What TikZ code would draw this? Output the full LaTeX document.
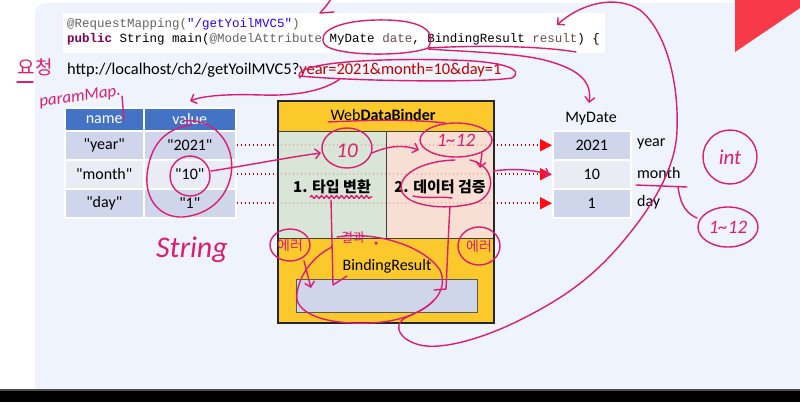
\documentclass[tikz,border=0pt]{standalone}
\usepackage{fontspec}
\setmainfont{Carlito}[Ligatures=TeXOff]
\setmonofont{Liberation Mono}
\newfontfamily\kr{Noto Sans CJK KR}
\usetikzlibrary{arrows.meta,decorations.pathmorphing}
\definecolor{panel}{HTML}{EFF3FC}
\definecolor{redtri}{HTML}{F83A48}
\definecolor{hdrblue}{HTML}{4472C4}
\definecolor{rowdark}{HTML}{CFD5EA}
\definecolor{rowlight}{HTML}{E9EBF5}
\definecolor{wdborange}{HTML}{FFC000}
\definecolor{convgreen}{HTML}{D5E4D0}
\definecolor{validpeach}{HTML}{F9DDCB}
\definecolor{dotred}{HTML}{C00000}
\definecolor{tipred}{HTML}{FF1010}
\definecolor{pen}{HTML}{DC1E73}
\definecolor{codegray}{HTML}{646464}
\definecolor{codeblue}{HTML}{2A00FF}
\definecolor{codekw}{HTML}{7F0055}
\definecolor{codevar}{HTML}{6A4E4E}
\definecolor{urlred}{HTML}{C00000}
\newcommand\fsz[1]{\fontsize{#1}{#1}\selectfont}
\begin{document}
\begin{tikzpicture}[x=1pt,y=-1pt,
  cell/.style={draw=white,line width=1.5pt,inner sep=0pt,anchor=north west,minimum height=29,font=\fsz{16}},
  hcell/.style={cell,fill=hdrblue,text=white,minimum height=23},
  part/.style={draw=black!75,line width=0.8pt,inner sep=0pt,anchor=north west,fill opacity=0.82,text opacity=1},
  dotline/.style={dotred,line width=1.7pt,dash pattern=on 1.7pt off 2.3pt,-{Triangle[length=12pt,width=12pt,fill=tipred,color=tipred]}},
  lbl/.style={inner sep=0pt,font=\fsz{16}},
  pen/.style={draw=pen,line width=1.4pt,line cap=round,line join=round},
  barb/.style={-{Straight Barb[length=5pt,width=10pt]}},
  hand/.style={text=pen,inner sep=0pt,font=\fsz{#1}\itshape},
  khand/.style={text=pen,inner sep=0pt,font=\fsz{#1}\kr}
]
\useasboundingbox (0,0) rectangle (800,402);
\fill[white] (0,0) rectangle (800,402);
\fill[panel] (35,389) [rounded corners=10pt]-- (35,3) [sharp corners]-- (800,3) -- (800,389) -- cycle;
\fill[black!70] (0,389) rectangle (800,390.5);
\fill[black] (0,390.5) rectangle (800,402);
\fill[redtri] (735,0) -- (800,0) -- (800,8) -- (735,52) -- cycle;

% code box
\node[fill=white,inner sep=0pt,anchor=north west,minimum width=542,minimum height=40] (code) at (63,13) {};
\node[anchor=west,inner sep=0pt,font=\fsz{12.5}\ttfamily] (line1) at (67,24)
  {\textcolor{codegray}{@RequestMapping(}\textcolor{codeblue}{"/getYoilMVC5"}\textcolor{codegray}{)}};
\node[anchor=west,inner sep=0pt,font=\fsz{12.5}\ttfamily] (line2) at (67,39)
  {\textcolor{codekw}{\bfseries public} String main(\textcolor{codegray}{@ModelAttribute} MyDate \textcolor{codevar}{date}, BindingResult \textcolor{codevar}{result}) \{};

% url
\node[anchor=west,inner sep=0pt,font=\fsz{16.4}] (url) at (67,70)
  {http://localhost/ch2/getYoilMVC5?\textcolor{urlred}{year=2021\&month=10\&day=1}};

% param table
\node[hcell,minimum width=79] (hname) at (64,107) {name};
\node[hcell,minimum width=92] (hvalue) at (143,107) {value};
\node[cell,fill=rowdark,minimum width=79] (n1) at (64,130) {"year"};
\node[cell,fill=rowdark,minimum width=92] (v1) at (143,130) {"2021"};
\node[cell,fill=rowlight,minimum width=79] (n2) at (64,159) {"month"};
\node[cell,fill=rowlight,minimum width=92] (v2) at (143,159) {"10"};
\node[cell,fill=rowdark,minimum width=79] (n3) at (64,188) {"day"};
\node[cell,fill=rowdark,minimum width=92] (v3) at (143,188) {"1"};

% MyDate
\node[lbl] (mytitle) at (591,119) {MyDate};
\node[cell,fill=rowdark,minimum width=78] (m1) at (552,130) {2021};
\node[cell,fill=rowlight,minimum width=78] (m2) at (552,159) {10};
\node[cell,fill=rowdark,minimum width=78] (m3) at (552,188) {1};
\node[lbl,anchor=west] (f1) at (637,144) {year};
\node[lbl,anchor=west] (f2) at (637,173) {month};
\node[lbl,anchor=west] (f3) at (637,202) {day};

% dotted connectors
\draw[dotline] (v1.east) -- (m1.west);
\draw[dotline] (v2.east) -- (m2.west);
\draw[dotline] (v3.east) -- (m3.west);

% WebDataBinder
\node[part,fill=wdborange,minimum width=216,minimum height=31] (wdbh) at (277,100) {};
\node[part,fill=convgreen,minimum width=109,minimum height=107] (conv) at (277,131) {};
\node[part,fill=validpeach,minimum width=107,minimum height=107] (valid) at (386,131) {};
\node[part,fill=wdborange,minimum width=216,minimum height=84] (br) at (277,238) {};
\node[draw=black!85,line width=1.6pt,inner sep=0pt,anchor=north west,minimum width=216,minimum height=222] (wdb) at (277,100) {};
\node[fill=rowdark,draw=black!65,line width=1.2pt,inner sep=0pt,anchor=north west,minimum width=181,minimum height=33] (brbox) at (296,279) {};
\node[lbl] (wdbt) at (383,115) {Web\textbf{DataBinder}};
\node[inner sep=0pt,font=\fsz{15}\kr\bfseries] (convt) at (332,187) {1. 타입 변환};
\node[inner sep=0pt,font=\fsz{15}\kr\bfseries] (validt) at (440,187) {2. 데이터 검증};
\node[lbl] (brt) at (387,266) {BindingResult};

% ---- handwritten annotations ----
\draw[pen] (331,-1) .. controls (327,5) .. (320,13) -- (334,12);
% ellipse round MyDate date
\draw[pen] (428,48) .. controls (438,30) and (420,19) .. (376,20) .. controls (335,21) and (316,33) .. (325,45) .. controls (336,56) and (405,57) .. (428,48);
\draw[pen,barb] (428,49) .. controls (470,52) and (520,53) .. (548,61) .. controls (580,70) and (592,82) .. (589,103);
% underline BindingResult result
\draw[pen] (428,48) .. controls (480,45) and (540,46) .. (576,52);
% ellipse round query string
\draw[pen] (300,78) .. controls (288,62) and (380,58) .. (450,60) .. controls (505,61) and (525,70) .. (512,78) .. controls (480,83) and (350,81) .. (300,76);
\draw[pen,barb] (340,79) .. controls (322,92) and (292,96) .. (262,95) .. controls (232,94) and (205,95) .. (190,101);
% big right curve
\draw[pen,barb] (677,130) .. controls (679,80) and (665,30) .. (640,10) .. controls (615,-6) and (580,4) .. (557,25);
\draw[pen] (677,130) .. controls (676,170) and (650,210) .. (620,245) .. controls (590,280) and (560,300) .. (520,320) .. controls (480,340) and (440,350) .. (420,345) .. controls (400,340) and (392,326) .. (405,318) .. controls (415,313) and (426,309) .. (434,300);
% loop round BindingResult
\draw[pen] (337,237) .. controls (372,231) and (422,244) .. (440,270) .. controls (452,296) and (420,321) .. (370,323) .. controls (320,325) and (294,311) .. (297,294) .. controls (299,274) and (315,255) .. (332,247);
% left error
\draw[pen] (290,245) ellipse [x radius=20,y radius=16];
\node[khand=14] (err1) at (290,245) {에러};
\draw[pen,barb] (304,261) -- (311,288);
\draw[pen] (331,200) -- (333,285) -- (347,276);
\node[khand=13] (result) at (353,238) {결과};
\fill[pen] (376,243) circle (1pt);
% right error
\draw[pen] (479,246) ellipse [x radius=21,y radius=19];
\node[khand=14] (err2) at (479,246) {에러};
\draw[pen] (450,206) .. controls (448,240) and (447,270) .. (446,289) -- (434,290);
% circle round validation
\draw[pen] (470,160) .. controls (495,165) and (498,195) .. (475,203) .. controls (450,210) and (410,208) .. (402,192) .. controls (396,176) and (420,161) .. (455,160);
% 1~12 circle in box
\draw[pen] (456,140) ellipse [x radius=36,y radius=17];
\node[hand=19] (rng1) at (456,140) {1\textasciitilde 12};
\draw[pen,barb] (482,153) -- (480,168);
% 10 circle in box
\draw[pen] (347,148) ellipse [x radius=25,y radius=20];
\node[hand=21] (ten) at (347,151) {10};
\draw[pen,barb] (211,171) .. controls (250,165) and (290,157) .. (321,153);
\draw[pen,barb] (372,153) .. controls (390,145) and (405,145) .. (419,150);
\draw[pen,barb] (493,171) .. controls (515,168) and (535,170) .. (550,175);
% table circles
\draw[pen] (190,176) ellipse [x radius=20,y radius=20];
\draw[pen] (183,121) .. controls (215,117) and (236,145) .. (231,175) .. controls (226,201) and (206,215) .. (183,217) .. controls (160,218) and (145,200) .. (147,175) .. controls (150,145) and (165,128) .. (192,125);
\node[hand=30] (strg) at (192,250) {String};
% top-left notes
\node[khand=19] (req) at (35,67) {요청};
\draw[pen] (17,82) -- (33,82);
\node[hand=17,rotate=8] (pmap) at (80,97) {paramMap.};
\draw[pen] (122,96) -- (124,120);
% underlines
\draw[pen] (328,122) .. controls (370,120) and (410,119) .. (445,123);
\draw[pen,decorate,decoration={snake,amplitude=1.5pt,segment length=5pt}] (310,197) -- (372,197);
\draw[pen] (413,196) .. controls (425,199) and (440,196) .. (452,198);
% right notes
\draw[pen] (730,157) circle (27);
\node[hand=21] (intn) at (730,157) {int};
\draw[pen] (636,185) -- (687,187);
\draw[pen] (678,187) .. controls (680,200) and (683,212) .. (697,218);
\draw[pen] (728,227) ellipse [x radius=30,y radius=20];
\node[hand=19] (rng2) at (728,227) {1\textasciitilde 12};
\end{tikzpicture}
\end{document}
